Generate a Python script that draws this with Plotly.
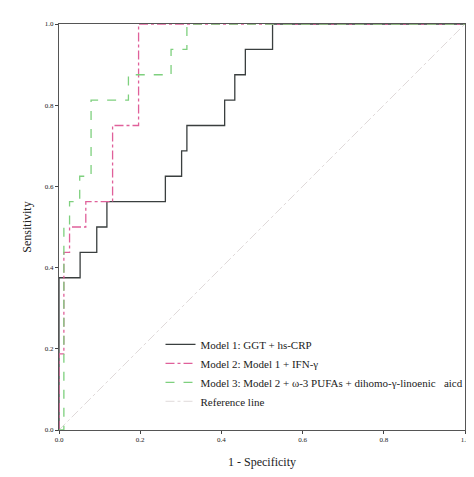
import plotly.graph_objects as go

m1_x = [0, 0, 0.052, 0.052, 0.093, 0.093, 0.118, 0.118, 0.262, 0.262, 0.302, 0.302, 0.315, 0.315, 0.408, 0.408, 0.433, 0.433, 0.459, 0.459, 0.526, 0.526, 1.0]
m1_y = [0, 0.375, 0.375, 0.4375, 0.4375, 0.5, 0.5, 0.5625, 0.5625, 0.625, 0.625, 0.6875, 0.6875, 0.75, 0.75, 0.8125, 0.8125, 0.875, 0.875, 0.9375, 0.9375, 1.0, 1.0]
m2_x = [0, 0, 0.012, 0.012, 0.026, 0.026, 0.066, 0.066, 0.132, 0.132, 0.196, 0.196, 1.0]
m2_y = [0, 0.1875, 0.1875, 0.4375, 0.4375, 0.5, 0.5, 0.5625, 0.5625, 0.75, 0.75, 1.0, 1.0]
m3_x = [0, 0.012, 0.012, 0.026, 0.026, 0.051, 0.051, 0.079, 0.079, 0.171, 0.171, 0.276, 0.276, 0.315, 0.315, 1.0]
m3_y = [0, 0, 0.5, 0.5, 0.5625, 0.5625, 0.625, 0.625, 0.8125, 0.8125, 0.875, 0.875, 0.9375, 0.9375, 1.0, 1.0]
ref_x = [0, 1]
ref_y = [0, 1]
names = ["Model 1: GGT + hs-CRP", "Model 2: Model 1 + IFN-γ",
         "Model 3: Model 2 + ω-3 PUFAs + dihomo-γ-linoenic   aicd", "Reference line"]
ticks = [0, 0.2, 0.4, 0.6, 0.8, 1.0]
tick_labels = ["0.0", "0.2", "0.4", "0.6", "0.8", "1.0"]

fig = go.Figure()
fig.add_trace(go.Scatter(x=ref_x, y=ref_y, mode="lines", name=names[3], line=dict(color="#e0dada", width=1, dash="dashdot"), showlegend=False))
fig.add_trace(go.Scatter(x=m1_x, y=m1_y, mode="lines", name=names[0], line=dict(color="#3a3f3f", width=1.3)))
fig.add_trace(go.Scatter(x=m2_x, y=m2_y, mode="lines", name=names[1], line=dict(color="#e0609a", width=1.3, dash="dashdot")))
fig.add_trace(go.Scatter(x=m3_x, y=m3_y, mode="lines", name=names[2], line=dict(color="#7ed07e", width=1.3, dash="dash")))
fig.add_trace(go.Scatter(x=[None], y=[None], mode="lines", name=names[3], line=dict(color="#e0dada", width=1, dash="dashdot")))

fig.update_layout(
    width=474, height=477, margin=dict(l=51, r=13, t=14, b=55),
    paper_bgcolor="white", plot_bgcolor="white",
    font=dict(family="Liberation Serif, Times New Roman, serif", color="#222"),
    showlegend=True,
    legend=dict(x=0.25, y=0.035, xanchor="left", yanchor="bottom", bgcolor="rgba(0,0,0,0)",
                font=dict(size=11, family="Liberation Serif, serif"), tracegroupgap=0, itemwidth=30),
    xaxis=dict(range=[0, 1], tickvals=ticks, ticktext=tick_labels, ticks="outside", ticklen=3,
               tickfont=dict(size=7), showgrid=False, zeroline=False, showline=True, linecolor="#555",
               mirror=True, title=dict(text="1 - Specificity", font=dict(size=12), standoff=14)),
    yaxis=dict(range=[0, 1], tickvals=ticks, ticktext=tick_labels, ticks="outside", ticklen=3,
               tickfont=dict(size=7), showgrid=False, zeroline=False, showline=True, linecolor="#555",
               mirror=True, title=dict(text="Sensitivity", font=dict(size=12), standoff=10)),
)
fig.write_html("out.html")
